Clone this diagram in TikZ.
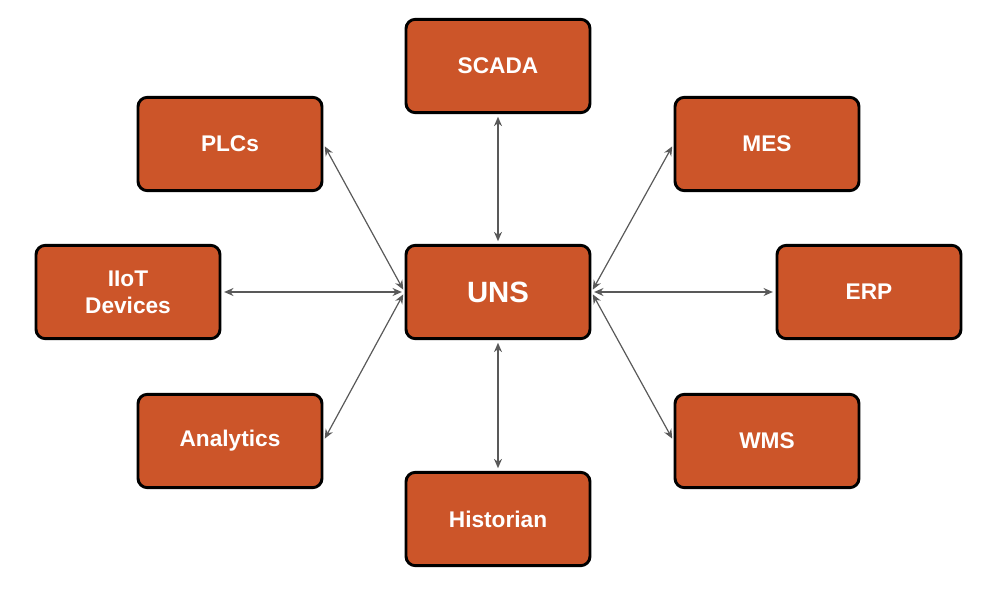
\documentclass[tikz,border=0pt]{standalone}
\usepackage{fontspec}
\setmainfont{Liberation Sans}
\usetikzlibrary{arrows.meta}
\definecolor{boxc}{RGB}{204,85,41}
\definecolor{arr}{RGB}{89,89,89}
\begin{document}
\begin{tikzpicture}[x=0.75pt,y=-0.75pt,
  box/.style={draw=black,line width=2.2pt,fill=boxc,rounded corners=7pt,
    minimum width=138pt,minimum height=70pt,text=white,font=\bfseries\fontsize{17}{20}\selectfont,align=center,inner sep=0pt},
  link/.style={draw=arr,line width=0.9pt,{Stealth[length=7pt,width=6pt]}-{Stealth[length=7pt,width=6pt]},shorten <=2pt,shorten >=2pt}]
\useasboundingbox (0,0) rectangle (1000,592);
\node[box] (scada) at (498,66) {SCADA};
\node[box] (plc) at (230,144) {PLCs};
\node[box] (mes) at (767,144) {MES};
\node[box] (iiot) at (128,292) {IIoT\\Devices};
\node[box,font=\bfseries\fontsize{22}{26}\selectfont] (uns) at (498,292) {UNS};
\node[box] (erp) at (869,292) {ERP};
\node[box] (ana) at (230,441) {Analytics};
\node[box] (wms) at (767,441) {WMS};
\node[box] (hist) at (498,519) {Historian};
\draw[link] (scada) -- (uns);
\draw[link] (uns) -- (hist);
\draw[link] (iiot) -- (uns);
\draw[link] (uns) -- (erp);
\draw[link] (plc.east) -- (uns.west);
\draw[link] (ana.east) -- (uns.west);
\draw[link] (mes.west) -- (uns.east);
\draw[link] (wms.west) -- (uns.east);
\end{tikzpicture}
\end{document}
